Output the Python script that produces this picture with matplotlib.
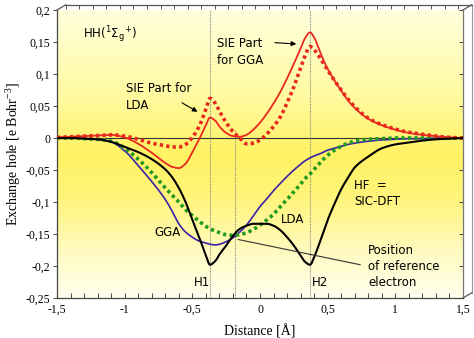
import numpy as np
import matplotlib
matplotlib.use("Agg")
import matplotlib.pyplot as plt
from matplotlib.lines import Line2D
from matplotlib.ticker import MultipleLocator, FixedLocator

# ---- data: exchange hole of H2 along the bond axis ----
x = [-1.5, -1.4, -1.3, -1.2, -1.1, -1.0, -0.9, -0.8, -0.7, -0.65, -0.6, -0.55, -0.5,
     -0.45, -0.4, -0.37, -0.33, -0.3, -0.25, -0.2, -0.15, -0.1, -0.05, 0.0, 0.05, 0.1,
     0.15, 0.2, 0.25, 0.3, 0.33, 0.37, 0.4, 0.45, 0.5, 0.55, 0.6, 0.65, 0.7, 0.8, 0.9,
     1.0, 1.1, 1.2, 1.3, 1.4, 1.5]

hf_sic = [0.0, 0.0, -0.001, -0.002, -0.006, -0.014, -0.022, -0.033, -0.049, -0.061,
          -0.078, -0.100, -0.128, -0.155, -0.183, -0.198, -0.192, -0.182, -0.168, -0.153,
          -0.142, -0.137, -0.134, -0.134, -0.134, -0.137, -0.144, -0.155, -0.168, -0.184,
          -0.193, -0.198, -0.186, -0.158, -0.128, -0.103, -0.080, -0.062, -0.046, -0.029,
          -0.016, -0.010, -0.007, -0.004, -0.002, -0.001, 0.0]

gga = [0.0, 0.0, -0.001, -0.002, -0.006, -0.020, -0.043, -0.068, -0.096, -0.114,
       -0.134, -0.147, -0.155, -0.161, -0.164, -0.166, -0.167, -0.166, -0.162, -0.156,
       -0.147, -0.136, -0.122, -0.107, -0.095, -0.082, -0.071, -0.060, -0.050, -0.041,
       -0.036, -0.031, -0.028, -0.024, -0.019, -0.016, -0.013, -0.010, -0.008, -0.005,
       -0.003, -0.002, -0.001, -0.001, 0.0, 0.0, 0.0]

lda = [0.0, 0.0, -0.001, -0.002, -0.005, -0.016, -0.033, -0.054, -0.078, -0.089,
       -0.100, -0.112, -0.121, -0.130, -0.138, -0.142, -0.145, -0.148, -0.151, -0.152,
       -0.151, -0.148, -0.143, -0.136, -0.128, -0.119, -0.107, -0.096, -0.084, -0.072,
       -0.064, -0.056, -0.049, -0.037, -0.027, -0.019, -0.013, -0.008, -0.005, -0.002,
       -0.001, 0.0, 0.0, 0.0, 0.0, 0.0, 0.0]

sie_gga = [0.001, 0.002, 0.003, 0.004, 0.005, 0.001, -0.009, -0.023, -0.039, -0.045,
           -0.047, -0.040, -0.022, -0.002, 0.020, 0.032, 0.027, 0.018, 0.008, 0.003,
           0.002, 0.005, 0.013, 0.024, 0.038, 0.054, 0.072, 0.093, 0.116, 0.140,
           0.155, 0.165, 0.157, 0.131, 0.108, 0.090, 0.074, 0.059, 0.047, 0.030,
           0.020, 0.013, 0.008, 0.005, 0.003, 0.001, 0.0]

sie_lda = [0.001, 0.002, 0.003, 0.004, 0.005, 0.003, -0.002, -0.008, -0.012, -0.014,
           -0.014, -0.010, 0.001, 0.018, 0.045, 0.062, 0.054, 0.042, 0.024, 0.010,
           0.000, -0.009, -0.008, -0.003, 0.006, 0.018, 0.033, 0.055, 0.080, 0.110,
           0.127, 0.143, 0.138, 0.123, 0.106, 0.090, 0.075, 0.061, 0.049, 0.031,
           0.021, 0.014, 0.009, 0.006, 0.003, 0.001, 0.0]

nuclei = [-0.37, 0.37]
ref_electron = -0.185

x_ticks = [-1.5, -1.0, -0.5, 0.0, 0.5, 1.0, 1.5]
x_tick_labels = ["-1,5", "-1", "-0,5", "0", "0,5", "1", "1,5"]
y_ticks = [-0.25, -0.2, -0.15, -0.1, -0.05, 0.0, 0.05, 0.1, 0.15, 0.2]
y_tick_labels = ["-0,25", "-0,2", "-0,15", "-0,1", "-0,05", "0", "0,05", "0,1", "0,15", "0,2"]

XMIN, XMAX, YMIN, YMAX = -1.5, 1.5, -0.25, 0.2


def smooth_curve(xk, yk, n=600):
    """Shape-preserving (PCHIP) cubic through the given points, for drawing."""
    xk = np.asarray(xk, float)
    yk = np.asarray(yk, float)
    h = np.diff(xk)
    d = np.diff(yk) / h
    m = np.zeros_like(yk)
    m[0], m[-1] = d[0], d[-1]
    for k in range(1, len(xk) - 1):
        if d[k - 1] * d[k] <= 0:
            m[k] = 0.0
        else:
            w1 = 2 * h[k] + h[k - 1]
            w2 = h[k] + 2 * h[k - 1]
            m[k] = (w1 + w2) / (w1 / d[k - 1] + w2 / d[k])
    xs = np.linspace(xk[0], xk[-1], n)
    idx = np.clip(np.searchsorted(xk, xs) - 1, 0, len(xk) - 2)
    t = (xs - xk[idx]) / h[idx]
    h00 = 2 * t**3 - 3 * t**2 + 1
    h10 = t**3 - 2 * t**2 + t
    h01 = -2 * t**3 + 3 * t**2
    h11 = t**3 - t**2
    ys = (h00 * yk[idx] + h10 * h[idx] * m[idx]
          + h01 * yk[idx + 1] + h11 * h[idx] * m[idx + 1])
    return xs, ys


fig = plt.figure(figsize=(4.74, 3.38), dpi=100)
L, B, W, H = 0.1203, 0.1183, 0.8565, 0.852
dx, dy = 0.0185, 0.0155   # depth offset of the back wall (figure fraction)

# back wall: top and right edges of the 3D box
back = fig.add_axes([L + dx, B + dy, W, H], zorder=0)
back.set_xlim(XMIN, XMAX)
back.set_ylim(YMIN, YMAX)
back.patch.set_visible(False)
for s in ["left", "bottom"]:
    back.spines[s].set_visible(False)
back.spines["top"].set_color("#555555")
back.spines["right"].set_color("#999999")
back.spines["top"].set_linewidth(0.9)
back.spines["right"].set_linewidth(0.8)
back.xaxis.set_major_locator(MultipleLocator(0.1))
back.tick_params(axis="x", which="both", top=True, bottom=False, labeltop=False,
                 labelbottom=False, direction="in", length=3, width=0.7, color="#555555")
back.tick_params(axis="y", left=False, right=False, labelleft=False)

ax = fig.add_axes([L, B, W, H], zorder=1)
ax.set_xlim(XMIN, XMAX)
ax.set_ylim(YMIN, YMAX)

# yellow background gradient
stops_t = [0.0, 0.3, 0.5, 0.65, 0.85, 1.0]
stops_c = np.array([[255, 255, 222], [255, 250, 160], [255, 242, 100],
                    [255, 244, 122], [255, 251, 195], [255, 255, 238]]) / 255.0
tt = np.linspace(0, 1, 300)
grad = np.stack([np.interp(tt, stops_t, stops_c[:, k]) for k in range(3)], axis=-1)
ax.imshow(grad[:, None, :], extent=[XMIN, XMAX, YMIN, YMAX], aspect="auto",
          origin="upper", zorder=0, interpolation="bilinear")

# reference lines
ax.axhline(0, color="#333333", lw=0.8, zorder=1)
for xn in nuclei:
    ax.axvline(xn, color="#888888", lw=0.8, ls=(0, (1, 1)), zorder=1)
ax.plot([ref_electron, ref_electron], [0.012, YMIN], color="#888888", lw=0.8,
        ls=(0, (1, 1)), zorder=1)

# curves
ax.plot(*smooth_curve(x, gga), color="#3a22a8", lw=1.2, zorder=3)
ax.plot(*smooth_curve(x, lda), color="#1f9a1f", lw=2.6, ls=(0, (0.9, 0.9)), zorder=3)
ax.plot(*smooth_curve(x, hf_sic), color="black", lw=1.5, zorder=4)
ax.plot(*smooth_curve(x, sie_gga), color="#e8281e", lw=1.3, zorder=3)
ax.plot(*smooth_curve(x, sie_lda), color="#e8281e", lw=2.6, ls=(0, (0.9, 0.9)), zorder=3)

# axis styling
for s in ["left", "bottom", "right"]:
    ax.spines[s].set_color("#444444")
    ax.spines[s].set_linewidth(0.9)
ax.spines["top"].set_visible(False)
ax.spines["right"].set_color("#777777")

ax.xaxis.set_major_locator(FixedLocator(x_ticks))
ax.set_xticklabels(x_tick_labels)
ax.xaxis.set_minor_locator(MultipleLocator(0.1))
ax.yaxis.set_major_locator(FixedLocator(y_ticks))
ax.set_yticklabels(y_tick_labels)
ax.tick_params(axis="x", which="both", direction="in", length=3.5, width=0.7,
               color="#444444", top=False, pad=4)
ax.tick_params(axis="y", which="major", direction="out", length=3, width=0.7,
               color="#444444", pad=2)
for lab in ax.get_xticklabels() + ax.get_yticklabels():
    lab.set_fontfamily("Liberation Serif")
    lab.set_fontsize(8.5)

ax.set_xlabel("Distance [Å]", family="Liberation Serif", fontsize=10, labelpad=6)
ax.set_ylabel(r"Exchange hole [e Bohr$^{\mathregular{-3}}$]", family="Liberation Serif",
              fontsize=10, labelpad=2)

# right-side ticks pointing inwards
ax.tick_params(axis="y", which="major", right=True)
for t in ax.yaxis.get_major_ticks():
    t.tick2line.set_marker(0)  # TICKLEFT marker: points into the plot from the right
    t.tick2line.set_markersize(3)

# 3D box corner edges
for (x0, y0) in [(0.0, 1.0), (1.0, 1.0), (1.0, 0.0)]:
    fx0 = L + x0 * W
    fy0 = B + y0 * H
    fig.add_artist(Line2D([fx0, fx0 + dx], [fy0, fy0 + dy], color="#555555", lw=0.9))

# annotations
tkw = dict(family="DejaVu Sans", fontsize=8.5, color="black")
ax.text(-1.31, 0.161, r"HH($^{\mathregular{1}}\mathregular{\Sigma}_{\mathregular{g}}{}^{\mathregular{+}}$)",
        va="center", ha="left", **tkw)
ax.text(-0.318, 0.1345, "SIE Part\nfor GGA", va="center", ha="left", linespacing=1.35, **tkw)
ax.annotate("", xy=(0.268, 0.147), xytext=(0.11, 0.149),
            arrowprops=dict(arrowstyle="-|>", color="black", lw=0.8,
                            mutation_scale=7, shrinkA=0, shrinkB=0))
ax.text(-0.99, 0.064, "SIE Part for\nLDA", va="center", ha="left", linespacing=1.35, **tkw)
ax.annotate("", xy=(-0.462, 0.041), xytext=(-0.576, 0.055),
            arrowprops=dict(arrowstyle="-|>", color="black", lw=0.8,
                            mutation_scale=7, shrinkA=0, shrinkB=0))
ax.text(-0.687, -0.148, "GGA", va="center", ha="center", **tkw)
ax.text(0.237, -0.128, "LDA", va="center", ha="center", **tkw)
ax.text(0.695, -0.0865, "HF  =\nSIC-DFT", va="center", ha="left", linespacing=1.35, **tkw)
ax.text(-0.429, -0.225, "H1", va="center", ha="center", **tkw)
ax.text(0.443, -0.225, "H2", va="center", ha="center", **tkw)
ax.text(0.798, -0.2, "Position\nof reference\nelectron", va="center", ha="left",
        linespacing=1.3, **tkw)
ax.plot([-0.16, 0.74], [-0.1586, -0.198], color="#333333", lw=0.8, zorder=5)

fig.savefig("out.png", dpi=100)
